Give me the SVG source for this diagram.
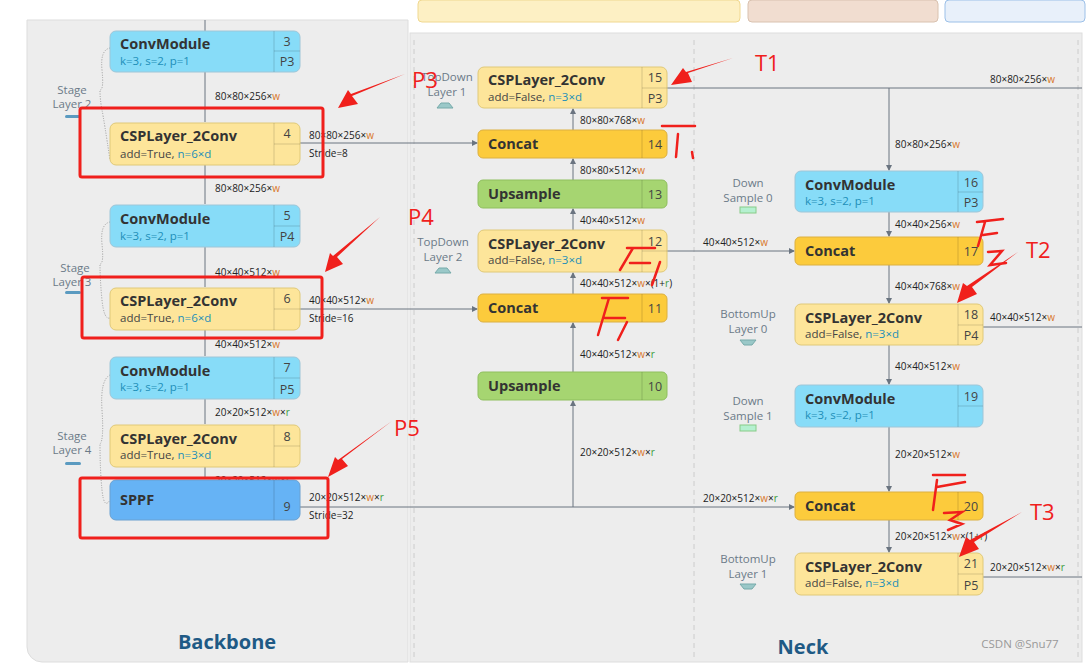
<svg xmlns="http://www.w3.org/2000/svg" width="1089" height="670" viewBox="0 0 1089 670">
<defs>
<marker id="ar" markerWidth="6" markerHeight="6" refX="5" refY="3" orient="auto"><path d="M0,0L6,3L0,6z" fill="#6a7480"/></marker>
</defs>
<style>
text{font-family:"Open Sans","Noto Sans","Liberation Sans",sans-serif}
.t{font-size:14.5px;font-weight:bold;fill:#333}
.s{font-size:11.5px;fill:#444}
.c{fill:#1e8fb8}
.n{font-size:12.5px;fill:#444;text-anchor:middle}
.l{font-size:10px;fill:#222}
.o{fill:#d9772a}
.g{fill:#3a9a3a}
.sl{font-size:11.5px;fill:#6b7a88;text-anchor:middle}
.ln{stroke:#6a7480;stroke-width:1;fill:none}
.bl{fill:#87dcf8;stroke:#9ec6d8}
.ye{fill:#fde59a;stroke:#e0c978}
.or{fill:#fccb3c;stroke:#dcb040}
.gr{fill:#a6d571;stroke:#8fbf5e}
.sp{fill:#66b3f5;stroke:#6aa0d0}
.div{stroke:#000;stroke-opacity:.15;fill:none}
.red{fill:none;stroke:#f0201c;stroke-width:3}
.rt{font-size:22px;fill:#f0201c}
.ra{fill:#f0201c}
.hw{fill:none;stroke:#f0201c;stroke-width:2.5;stroke-linecap:round}
</style>
<rect width="1089" height="670" fill="#fff"/>
<rect x="418" y="0" width="322" height="22" rx="4" fill="#fdf0c4" stroke="#f0d890"/>
<rect x="748" y="0" width="190" height="22" rx="4" fill="#f1ddd0" stroke="#d9c2b0"/>
<rect x="945" y="0" width="140" height="22" rx="4" fill="#e8f0fa" stroke="#9cc0e8"/>
<path d="M27,20H408V662H42a15,15 0 0 1 -15,-15z" fill="#ededed" stroke="#ddd"/>
<rect x="410" y="33" width="672" height="629" fill="#ededed" stroke="#ddd"/>
<line x1="694" y1="40" x2="694" y2="660" stroke="#ccc" stroke-dasharray="5,4"/>
<line x1="1078" y1="40" x2="1078" y2="660" stroke="#ccc" stroke-dasharray="5,4"/>
<line x1="414" y1="40" x2="414" y2="660" stroke="#ccc" stroke-dasharray="5,4"/>

<g id="connectors">
<path class="ln" d="M205,20V31M205,72V122M205,165V204M205,247V287M205,330V356M205,399V424M205,467V479"/>
<path class="ln" marker-end="url(#ar)" d="M300,143H477"/>
<path class="ln" marker-end="url(#ar)" d="M300,309H477"/>
<path class="ln" marker-end="url(#ar)" d="M300,507H794"/>
<path class="ln" marker-end="url(#ar)" d="M573,507V401"/>
<path class="ln" marker-end="url(#ar)" d="M573,372V323"/>
<path class="ln" marker-end="url(#ar)" d="M573,294V273"/>
<path class="ln" marker-end="url(#ar)" d="M573,230V209"/>
<path class="ln" marker-end="url(#ar)" d="M573,180V159"/>
<path class="ln" marker-end="url(#ar)" d="M573,130V109"/>
<path class="ln" d="M667,88H1082"/>
<path class="ln" marker-end="url(#ar)" d="M889,88V170"/>
<path class="ln" marker-end="url(#ar)" d="M889,212V236"/>
<path class="ln" marker-end="url(#ar)" d="M667,251H794"/>
<path class="ln" marker-end="url(#ar)" d="M889,265V303"/>
<path class="ln" marker-end="url(#ar)" d="M889,345V384"/>
<path class="ln" marker-end="url(#ar)" d="M889,427V491"/>
<path class="ln" marker-end="url(#ar)" d="M889,520V552"/>
<path class="ln" d="M983,327H1082M983,577H1082"/>
<g class="l">
<text x="215" y="100">80×80×256×<tspan class="o">w</tspan></text>
<text x="215" y="192">80×80×256×<tspan class="o">w</tspan></text>
<text x="215" y="276">40×40×512×<tspan class="o">w</tspan></text>
<text x="215" y="348">40×40×512×<tspan class="o">w</tspan></text>
<text x="215" y="416">20×20×512×<tspan class="o">w</tspan>×<tspan class="g">r</tspan></text>
<text x="215" y="484">20×20×512×<tspan class="o">w</tspan>×<tspan class="g">r</tspan></text>
<text x="309" y="139">80×80×256×<tspan class="o">w</tspan></text>
<text x="309" y="157">Stride=8</text>
<text x="309" y="304">40×40×512×<tspan class="o">w</tspan></text>
<text x="309" y="322">Stride=16</text>
<text x="309" y="501">20×20×512×<tspan class="o">w</tspan>×<tspan class="g">r</tspan></text>
<text x="309" y="519">Stride=32</text>
<text x="580" y="124">80×80×768×<tspan class="o">w</tspan></text>
<text x="580" y="174">80×80×512×<tspan class="o">w</tspan></text>
<text x="580" y="224">40×40×512×<tspan class="o">w</tspan></text>
<text x="580" y="287">40×40×512×<tspan class="o">w</tspan>×(1+<tspan class="g">r</tspan>)</text>
<text x="580" y="358">40×40×512×<tspan class="o">w</tspan>×<tspan class="g">r</tspan></text>
<text x="580" y="456">20×20×512×<tspan class="o">w</tspan>×<tspan class="g">r</tspan></text>
<text x="990" y="83">80×80×256×<tspan class="o">w</tspan></text>
<text x="895" y="148">80×80×256×<tspan class="o">w</tspan></text>
<text x="895" y="228">40×40×256×<tspan class="o">w</tspan></text>
<text x="895" y="290">40×40×768×<tspan class="o">w</tspan></text>
<text x="895" y="370">40×40×512×<tspan class="o">w</tspan></text>
<text x="895" y="458">20×20×512×<tspan class="o">w</tspan></text>
<text x="895" y="540">20×20×512×<tspan class="o">w</tspan>×(1+<tspan class="g">r</tspan>)</text>
<text x="703" y="246">40×40×512×<tspan class="o">w</tspan></text>
<text x="703" y="502">20×20×512×<tspan class="o">w</tspan>×<tspan class="g">r</tspan></text>
<text x="990" y="321">40×40×512×<tspan class="o">w</tspan></text>
<text x="990" y="571">20×20×512×<tspan class="o">w</tspan>×<tspan class="g">r</tspan></text>
</g>
</g>

<g id="stages">
<path d="M110,48Q100,50 102,70T100,90Q100,100 102,110T110,160" fill="none" stroke="#999" stroke-dasharray="1,1.5"/>
<path d="M110,222Q100,224 102,244T100,264Q100,280 102,300T110,318" fill="none" stroke="#999" stroke-dasharray="1,1.5"/>
<path d="M110,375Q100,380 102,410T100,444Q100,470 102,490T110,500" fill="none" stroke="#999" stroke-dasharray="1,1.5"/>
<text class="sl" x="72" y="94">Stage</text><text class="sl" x="72" y="108">Layer 2</text>
<rect x="65" y="115" width="16" height="3" rx="1.5" fill="#5a9ac0"/>
<text class="sl" x="75" y="272">Stage</text><text class="sl" x="72" y="286">Layer 3</text>
<rect x="65" y="291" width="16" height="3" rx="1.5" fill="#5a9ac0"/>
<text class="sl" x="72" y="440">Stage</text><text class="sl" x="72" y="454">Layer 4</text>
<rect x="65" y="462" width="16" height="3" rx="1.5" fill="#5a9ac0"/>
<text class="sl" x="447" y="81">TopDown</text><text class="sl" x="447" y="96">Layer 1</text>
<path d="M437,108L441,103H449L453,108z" fill="#9ac8c8" stroke="#7aa"/>
<text class="sl" x="443" y="246">TopDown</text><text class="sl" x="443" y="261">Layer 2</text>
<path d="M435,273L439,268H447L451,273z" fill="#9ac8c8" stroke="#7aa"/>
<text class="sl" x="748" y="187">Down</text><text class="sl" x="748" y="202">Sample 0</text>
<rect x="740" y="207" width="16" height="6" fill="#b5f0d0" stroke="#8c8"/>
<text class="sl" x="748" y="318">BottomUp</text><text class="sl" x="748" y="333">Layer 0</text>
<path d="M740,340L744,345H752L756,340z" fill="#9ac8c8" stroke="#7aa"/>
<text class="sl" x="748" y="405">Down</text><text class="sl" x="748" y="420">Sample 1</text>
<rect x="740" y="425" width="16" height="6" fill="#b5f0d0" stroke="#8c8"/>
<text class="sl" x="748" y="563">BottomUp</text><text class="sl" x="748" y="578">Layer 1</text>
<path d="M740,584L744,589H752L756,584z" fill="#9ac8c8" stroke="#7aa"/>
</g>

<g id="n3"><rect class="bl" x="110" y="31" width="190" height="41" rx="6"/><path class="div" d="M274,31V72M274,51H300"/><text class="t" x="120" y="49">ConvModule</text><text class="s c" x="120" y="65">k=3, s=2, p=1</text><text class="n" x="287" y="46">3</text><text class="n" x="287" y="66">P3</text></g>
<g id="n4"><rect class="ye" x="110" y="123" width="190" height="42" rx="6"/><path class="div" d="M274,123V165M274,144H300"/><text class="t" x="120" y="141">CSPLayer_2Conv</text><text class="s" x="120" y="158">add=True, <tspan class="c">n=6×d</tspan></text><text class="n" x="287" y="138">4</text></g>
<g id="n5"><rect class="bl" x="110" y="205" width="190" height="42" rx="6"/><path class="div" d="M274,205V247M274,226H300"/><text class="t" x="120" y="224">ConvModule</text><text class="s c" x="120" y="240">k=3, s=2, p=1</text><text class="n" x="287" y="220">5</text><text class="n" x="287" y="241">P4</text></g>
<g id="n6"><rect class="ye" x="110" y="288" width="190" height="42" rx="6"/><path class="div" d="M274,288V330M274,309H300"/><text class="t" x="120" y="306">CSPLayer_2Conv</text><text class="s" x="120" y="322">add=True, <tspan class="c">n=6×d</tspan></text><text class="n" x="287" y="303">6</text></g>
<g id="n7"><rect class="bl" x="110" y="357" width="190" height="42" rx="6"/><path class="div" d="M274,357V399M274,378H300"/><text class="t" x="120" y="376">ConvModule</text><text class="s c" x="120" y="391">k=3, s=2, p=1</text><text class="n" x="287" y="372">7</text><text class="n" x="287" y="394">P5</text></g>
<g id="n8"><rect class="ye" x="110" y="425" width="190" height="42" rx="6"/><path class="div" d="M274,425V467M274,446H300"/><text class="t" x="120" y="444">CSPLayer_2Conv</text><text class="s" x="120" y="459">add=True, <tspan class="c">n=3×d</tspan></text><text class="n" x="287" y="441">8</text></g>
<g id="n9"><rect class="sp" x="110" y="480" width="190" height="40" rx="6"/><path class="div" d="M274,480V520"/><text class="t" x="120" y="505">SPPF</text><text class="n" x="287" y="511">9</text></g>

<g id="n15"><rect class="ye" x="478" y="67" width="189" height="41" rx="6"/><path class="div" d="M642,67V108M642,88H667"/><text class="t" x="488" y="85">CSPLayer_2Conv</text><text class="s" x="488" y="101">add=False, <tspan class="c">n=3×d</tspan></text><text class="n" x="655" y="82">15</text><text class="n" x="655" y="103">P3</text></g>
<g id="n14"><rect class="or" x="478" y="130" width="189" height="28" rx="5"/><path class="div" d="M642,130V158"/><text class="t" x="488" y="149">Concat</text><text class="n" x="655" y="149">14</text></g>
<g id="n13"><rect class="gr" x="478" y="180" width="189" height="28" rx="5"/><path class="div" d="M642,180V208"/><text class="t" x="488" y="199">Upsample</text><text class="n" x="655" y="199">13</text></g>
<g id="n12"><rect class="ye" x="478" y="230" width="189" height="42" rx="6"/><path class="div" d="M642,230V272M642,251H667"/><text class="t" x="488" y="249">CSPLayer_2Conv</text><text class="s" x="488" y="264">add=False, <tspan class="c">n=3×d</tspan></text><text class="n" x="655" y="246">12</text></g>
<g id="n11"><rect class="or" x="478" y="294" width="189" height="28" rx="5"/><path class="div" d="M642,294V322"/><text class="t" x="488" y="313">Concat</text><text class="n" x="655" y="313">11</text></g>
<g id="n10"><rect class="gr" x="478" y="372" width="189" height="28" rx="5"/><path class="div" d="M642,372V400"/><text class="t" x="488" y="391">Upsample</text><text class="n" x="655" y="391">10</text></g>

<g id="n16"><rect class="bl" x="795" y="171" width="188" height="41" rx="6"/><path class="div" d="M958,171V212M958,192H983"/><text class="t" x="805" y="190">ConvModule</text><text class="s c" x="805" y="205">k=3, s=2, p=1</text><text class="n" x="971" y="187">16</text><text class="n" x="971" y="207">P3</text></g>
<g id="n17"><rect class="or" x="795" y="237" width="188" height="28" rx="5"/><path class="div" d="M958,237V265"/><text class="t" x="805" y="256">Concat</text><text class="n" x="971" y="256">17</text></g>
<g id="n18"><rect class="ye" x="795" y="304" width="188" height="41" rx="6"/><path class="div" d="M958,304V345M958,325H983"/><text class="t" x="805" y="323">CSPLayer_2Conv</text><text class="s" x="805" y="338">add=False, <tspan class="c">n=3×d</tspan></text><text class="n" x="971" y="319">18</text><text class="n" x="971" y="340">P4</text></g>
<g id="n19"><rect class="bl" x="795" y="385" width="188" height="42" rx="6"/><path class="div" d="M958,385V427M958,406H983"/><text class="t" x="805" y="404">ConvModule</text><text class="s c" x="805" y="419">k=3, s=2, p=1</text><text class="n" x="971" y="401">19</text></g>
<g id="n20"><rect class="or" x="795" y="492" width="188" height="28" rx="5"/><path class="div" d="M958,492V520"/><text class="t" x="805" y="511">Concat</text><text class="n" x="971" y="511">20</text></g>
<g id="n21"><rect class="ye" x="795" y="553" width="188" height="42" rx="6"/><path class="div" d="M958,553V595M958,574H983"/><text class="t" x="805" y="572">CSPLayer_2Conv</text><text class="s" x="805" y="587">add=False, <tspan class="c">n=3×d</tspan></text><text class="n" x="971" y="568">21</text><text class="n" x="971" y="590">P5</text></g>

<text x="227" y="649" text-anchor="middle" font-size="20" font-weight="bold" fill="#1f5a85">Backbone</text>
<text x="803" y="654" text-anchor="middle" font-size="20" font-weight="bold" fill="#1f5a85">Neck</text>
<text x="1020" y="648" text-anchor="middle" font-size="11.5" fill="#999">CSDN @Snu77</text>

<g id="annotations">
<rect class="red" x="80" y="108" width="243" height="69" rx="2"/>
<rect class="red" x="82" y="277" width="240" height="61" rx="2"/>
<rect class="red" x="80" y="478" width="248" height="60" rx="2"/>
<path class="ra" d="M405,74L352,96L358,104L338,108L348,90L351,94z"/>
<path class="ra" d="M380,217L337,257L343,264L325,272L330,253L333,256z"/>
<path class="ra" d="M392,421L342,459L348,466L328,477L335,457L338,460z"/>
<path class="ra" d="M733,58L688,73L692,82L671,85L683,68L686,72z"/>
<path class="ra" d="M1018,252L972,287L977,294L957,303L963,283L967,286z"/>
<path class="ra" d="M1022,512L974,542L979,549L959,557L966,537L970,540z"/>
<text class="rt" x="412" y="88">P3</text>
<text class="rt" x="408" y="225">P4</text>
<text class="rt" x="394" y="436">P5</text>
<text class="rt" x="755" y="71">T1</text>
<text class="rt" x="1026" y="258">T2</text>
<text class="rt" x="1030" y="520">T3</text>
<path class="hw" d="M662,126H695M678,134L676,157M692,152L693,158"/>
<path class="hw" d="M627,248H655M633,248L620,270M630,263H650M660,262L652,285"/>
<path class="hw" d="M602,298H628M609,298L598,335M605,318H625M627,322L618,340"/>
<path class="hw" d="M977,222L1003,219M985,222L978,246M983,235L997,233M988,252L1002,251L990,265L1006,263"/>
<path class="hw" d="M933,475H965M937,480L933,510M937,487L965,482M944,513L962,512L950,520L962,524L948,530"/>
</g>
</svg>
